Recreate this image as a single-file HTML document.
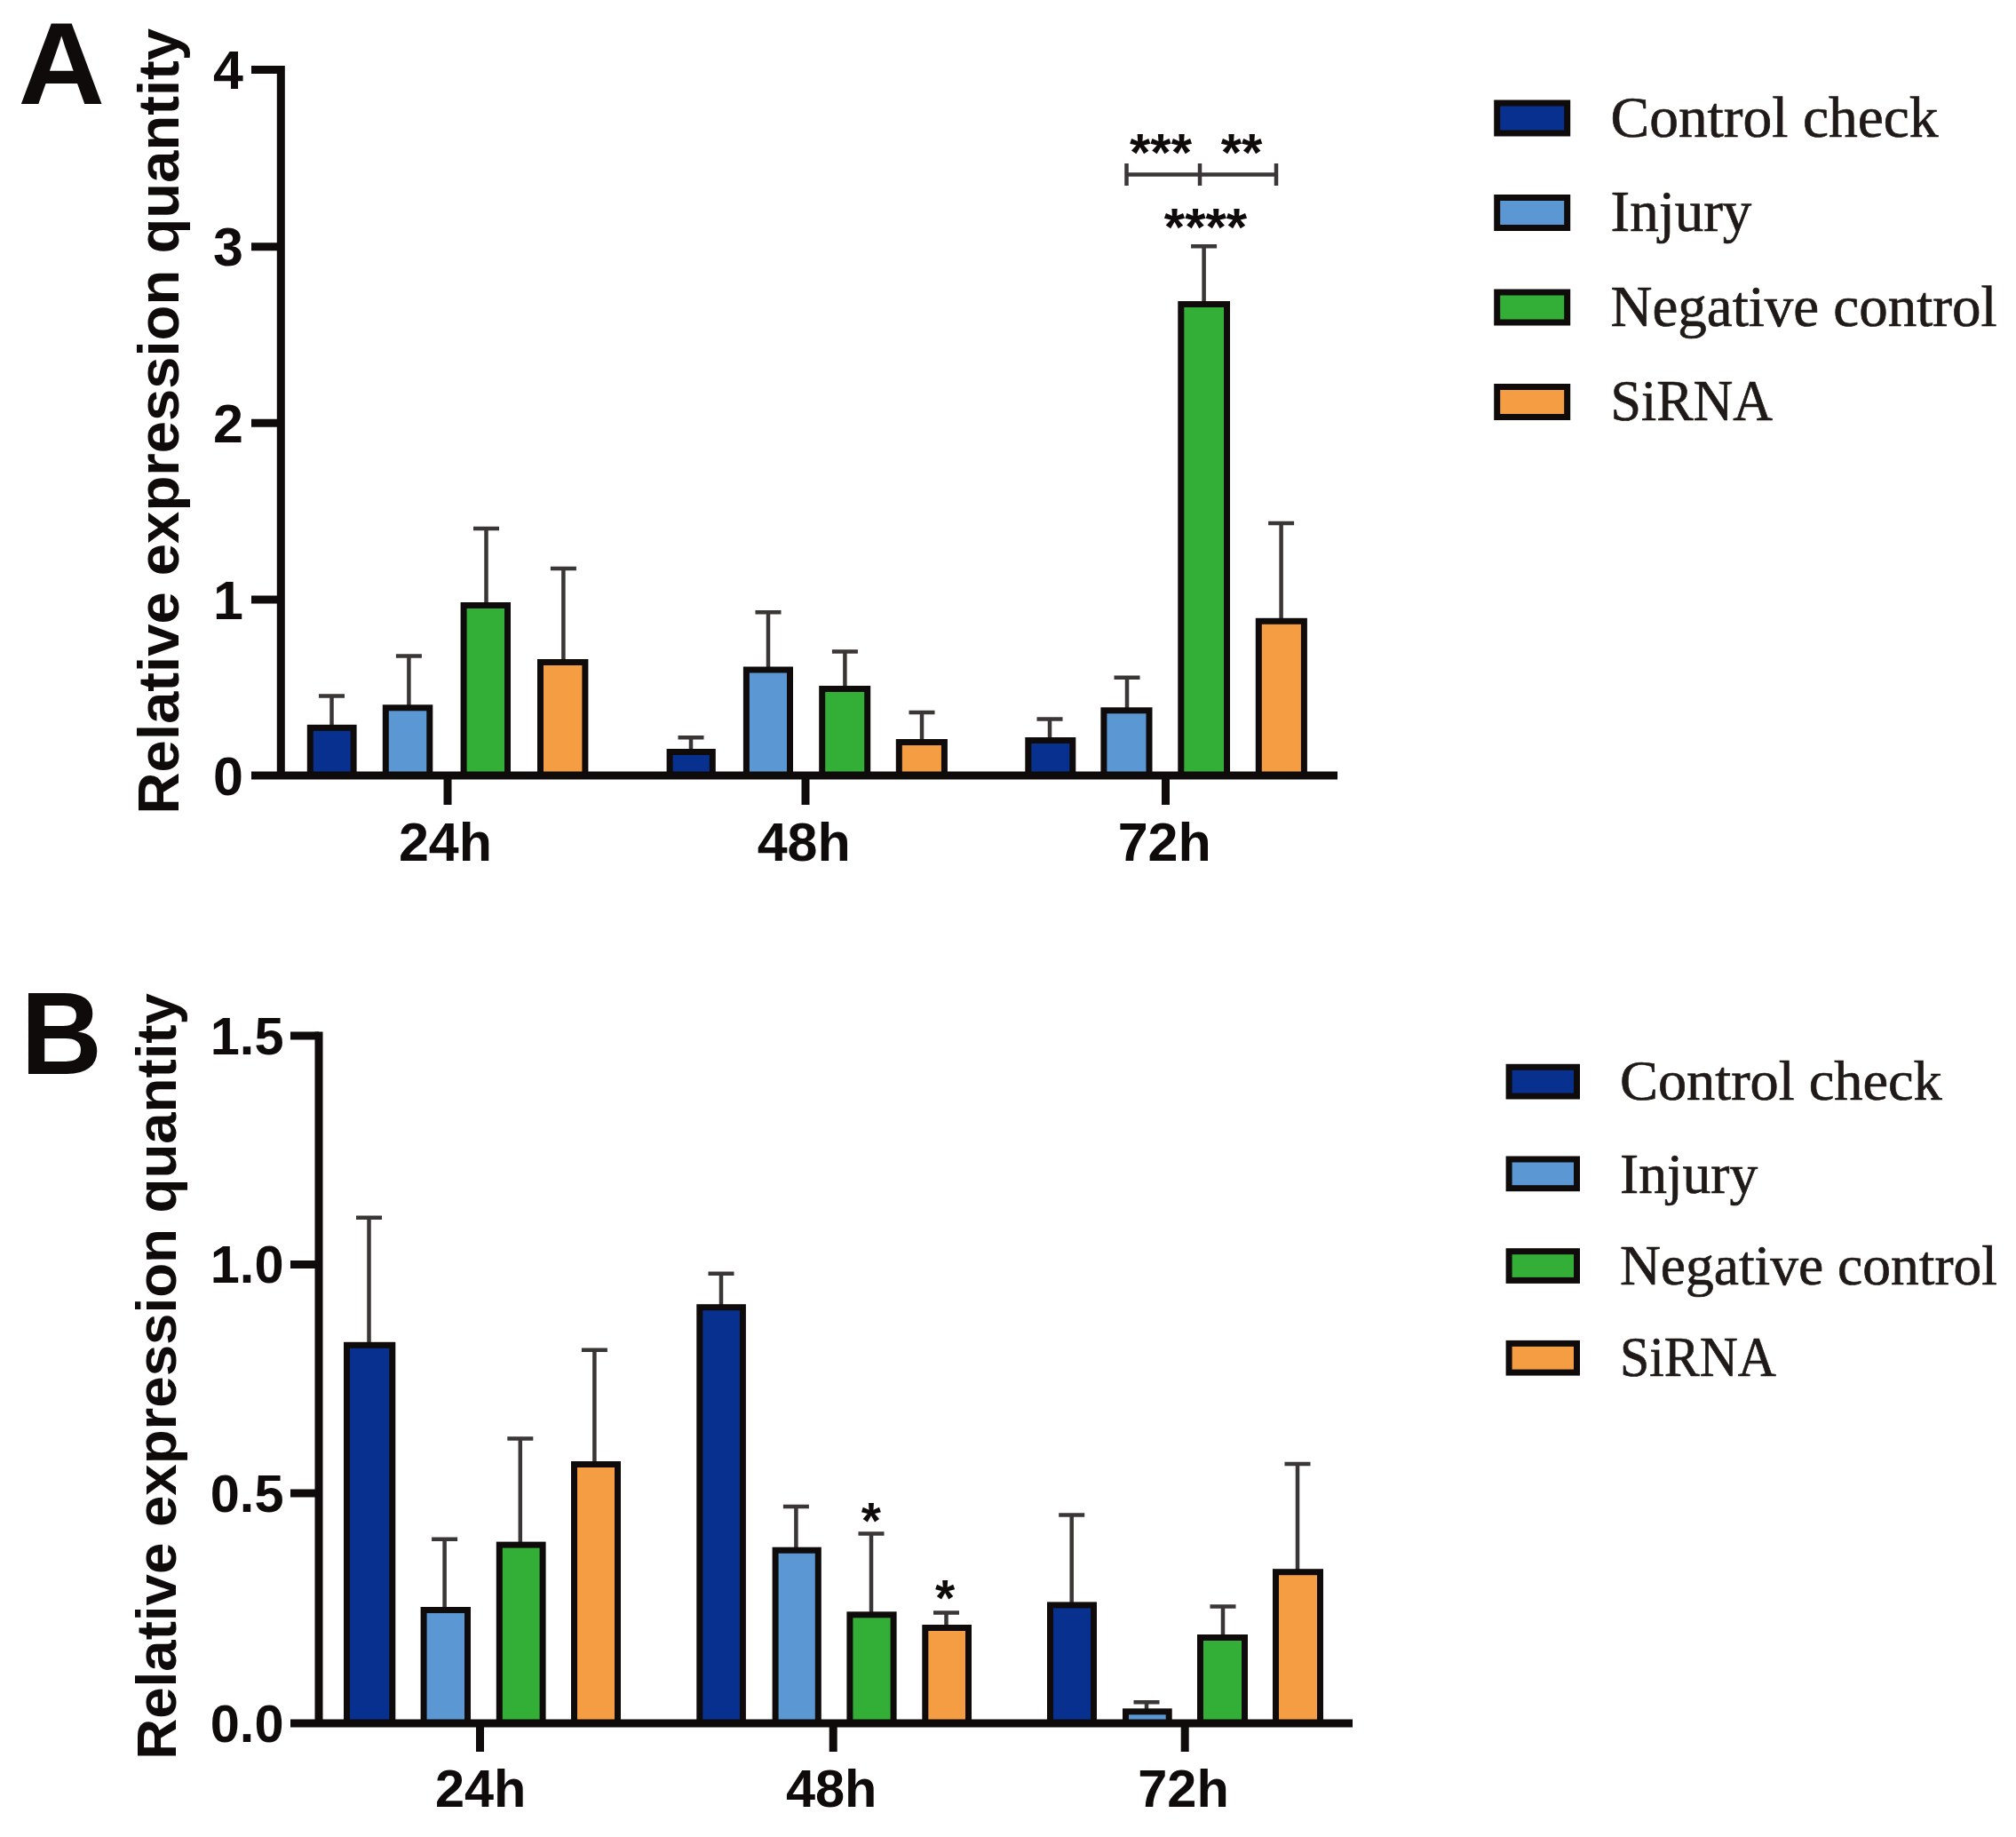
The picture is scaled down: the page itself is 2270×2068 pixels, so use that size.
<!DOCTYPE html>
<html lang="en"><head><meta charset="utf-8"><title>Relative expression quantity</title>
<style>
html,body{margin:0;padding:0;background:#fff}
body{width:2270px;height:2068px;overflow:hidden}
svg{display:block}
.ab{font-family:"Liberation Sans",Arial,sans-serif;font-weight:bold;fill:#0f0b0a}
.tr{font-family:"Liberation Serif","Times New Roman",serif;fill:#1f1a17;stroke:#1f1a17;stroke-width:0.7}
</style></head><body>
<svg width="2270" height="2068" viewBox="0 0 2270 2068">
<rect width="2270" height="2068" fill="#fff"/>

<g id="chartA">
<text class="ab" x="20.5" y="117" font-size="132" textLength="97.6" lengthAdjust="spacingAndGlyphs">A</text>
<text class="ab" font-size="65" transform="translate(200.5 916.5) rotate(-90)" textLength="884.6" lengthAdjust="spacingAndGlyphs">Relative expression quantity</text>
<path d="M359.0 783.4H388.0M373.5 783.4V817.8" stroke="#3a3635" stroke-width="4.5" fill="none"/>
<rect x="349.3" y="819.3" width="48.8" height="53.7" fill="#08318f" stroke="#0f0b0a" stroke-width="7"/>
<path d="M445.9 738.4H474.9M460.4 738.4V795.3" stroke="#3a3635" stroke-width="4.5" fill="none"/>
<rect x="434.3" y="796.8" width="49.5" height="76.2" fill="#5b98d3" stroke="#0f0b0a" stroke-width="7"/>
<path d="M533.0 594.9H562.0M547.5 594.9V680.0" stroke="#3a3635" stroke-width="4.5" fill="none"/>
<rect x="522.1" y="681.5" width="49.4" height="191.5" fill="#33ae37" stroke="#0f0b0a" stroke-width="7"/>
<path d="M619.9 639.9H648.9M634.4 639.9V744.0" stroke="#3a3635" stroke-width="4.5" fill="none"/>
<rect x="608.5" y="745.5" width="50.4" height="127.5" fill="#f49d43" stroke="#0f0b0a" stroke-width="7"/>
<path d="M763.5 830.2H792.5M778.0 830.2V845.0" stroke="#3a3635" stroke-width="4.5" fill="none"/>
<rect x="754.1" y="846.5" width="48.2" height="26.5" fill="#08318f" stroke="#0f0b0a" stroke-width="7"/>
<path d="M850.5 689.2H879.5M865.0 689.2V752.5" stroke="#3a3635" stroke-width="4.5" fill="none"/>
<rect x="840.4" y="754.0" width="49.1" height="119.0" fill="#5b98d3" stroke="#0f0b0a" stroke-width="7"/>
<path d="M936.9 733.5H965.9M951.4 733.5V774.0" stroke="#3a3635" stroke-width="4.5" fill="none"/>
<rect x="925.7" y="775.5" width="51.0" height="97.5" fill="#33ae37" stroke="#0f0b0a" stroke-width="7"/>
<path d="M1023.5 802.1H1052.5M1038.0 802.1V834.0" stroke="#3a3635" stroke-width="4.5" fill="none"/>
<rect x="1012.3" y="835.5" width="51.1" height="37.5" fill="#f49d43" stroke="#0f0b0a" stroke-width="7"/>
<path d="M1167.5 809.6H1196.5M1182.0 809.6V832.0" stroke="#3a3635" stroke-width="4.5" fill="none"/>
<rect x="1157.8" y="833.5" width="50.0" height="39.5" fill="#08318f" stroke="#0f0b0a" stroke-width="7"/>
<path d="M1254.5 762.8H1283.5M1269.0 762.8V798.3" stroke="#3a3635" stroke-width="4.5" fill="none"/>
<rect x="1242.9" y="799.8" width="51.1" height="73.2" fill="#5b98d3" stroke="#0f0b0a" stroke-width="7"/>
<path d="M1341.1 277.2H1370.1M1355.6 277.2V341.0" stroke="#3a3635" stroke-width="4.5" fill="none"/>
<rect x="1329.8" y="342.5" width="51.7" height="530.5" fill="#33ae37" stroke="#0f0b0a" stroke-width="7"/>
<path d="M1428.1 589.1H1457.1M1442.6 589.1V697.8" stroke="#3a3635" stroke-width="4.5" fill="none"/>
<rect x="1417.3" y="699.3" width="51.1" height="173.7" fill="#f49d43" stroke="#0f0b0a" stroke-width="7"/>
<path d="M316.3 74V873M283 873H1506" stroke="#0f0b0a" stroke-width="9" fill="none"/>
<path d="M283 78.6H316.3" stroke="#0f0b0a" stroke-width="9"/>
<path d="M283 277.8H316.3" stroke="#0f0b0a" stroke-width="9"/>
<path d="M283 476.2H316.3" stroke="#0f0b0a" stroke-width="9"/>
<path d="M283 675H316.3" stroke="#0f0b0a" stroke-width="9"/>
<text class="ab" font-size="61" x="274" y="100.1" text-anchor="end">4</text>
<text class="ab" font-size="61" x="274" y="299.3" text-anchor="end">3</text>
<text class="ab" font-size="61" x="274" y="497.7" text-anchor="end">2</text>
<text class="ab" font-size="61" x="274" y="696.5" text-anchor="end">1</text>
<text class="ab" font-size="61" x="274" y="894.5" text-anchor="end">0</text>
<path d="M504 873V906" stroke="#0f0b0a" stroke-width="9"/>
<text class="ab" font-size="61" x="501.5" y="969" text-anchor="middle">24h</text>
<path d="M907 873V906" stroke="#0f0b0a" stroke-width="9"/>
<text class="ab" font-size="61" x="905.2" y="969" text-anchor="middle">48h</text>
<path d="M1312.5 873V906" stroke="#0f0b0a" stroke-width="9"/>
<text class="ab" font-size="61" x="1311.2" y="969" text-anchor="middle">72h</text>
<path d="M1267 196.5H1439M1268.5 184V209M1351 184V209M1437 184V209" stroke="#3a3635" stroke-width="4.5" fill="none"/>
<text class="ab" font-size="60" x="1307" y="192" text-anchor="middle">***</text>
<text class="ab" font-size="60" x="1398" y="192" text-anchor="middle">**</text>
<text class="ab" font-size="60" x="1357.5" y="276" text-anchor="middle">****</text>
<rect x="1685.7" y="116.0" width="79" height="34" fill="#08318f" stroke="#0f0b0a" stroke-width="7"/>
<text class="tr" font-size="65" x="1813.5" y="153.8" textLength="369" lengthAdjust="spacingAndGlyphs">Control check</text>
<rect x="1685.7" y="222.5" width="79" height="34" fill="#5b98d3" stroke="#0f0b0a" stroke-width="7"/>
<text class="tr" font-size="65" x="1813.5" y="260">Injury</text>
<rect x="1685.7" y="329.0" width="79" height="34" fill="#33ae37" stroke="#0f0b0a" stroke-width="7"/>
<text class="tr" font-size="65" x="1813.5" y="367">Negative control</text>
<rect x="1685.7" y="435.5" width="79" height="34" fill="#f49d43" stroke="#0f0b0a" stroke-width="7"/>
<text class="tr" font-size="65" x="1813.5" y="473" textLength="182.4" lengthAdjust="spacingAndGlyphs">SiRNA</text>
</g>
<g id="chartB">
<text class="ab" x="23.5" y="1208.8" font-size="132" textLength="91.5" lengthAdjust="spacingAndGlyphs">B</text>
<text class="ab" font-size="63.5" transform="translate(197.6 1980.7) rotate(-90)" textLength="862.6" lengthAdjust="spacingAndGlyphs">Relative expression quantity</text>
<path d="M401.0 1370.8H430.0M415.5 1370.8V1512.8" stroke="#3a3635" stroke-width="4.5" fill="none"/>
<rect x="390.5" y="1514.3" width="51.3" height="425.7" fill="#08318f" stroke="#0f0b0a" stroke-width="7"/>
<path d="M486.1 1732.8H515.1M500.6 1732.8V1811.0" stroke="#3a3635" stroke-width="4.5" fill="none"/>
<rect x="477.1" y="1812.5" width="49.4" height="127.5" fill="#5b98d3" stroke="#0f0b0a" stroke-width="7"/>
<path d="M571.3 1619.6H600.3M585.8 1619.6V1737.6" stroke="#3a3635" stroke-width="4.5" fill="none"/>
<rect x="562.3" y="1739.1" width="48.8" height="200.9" fill="#33ae37" stroke="#0f0b0a" stroke-width="7"/>
<path d="M654.9 1519.8H683.9M669.4 1519.8V1647.0" stroke="#3a3635" stroke-width="4.5" fill="none"/>
<rect x="646.5" y="1648.5" width="49.0" height="291.5" fill="#f49d43" stroke="#0f0b0a" stroke-width="7"/>
<path d="M797.5 1433.8H826.5M812.0 1433.8V1470.2" stroke="#3a3635" stroke-width="4.5" fill="none"/>
<rect x="787.8" y="1471.7" width="48.6" height="468.3" fill="#08318f" stroke="#0f0b0a" stroke-width="7"/>
<path d="M881.9 1696.1H910.9M896.4 1696.1V1743.7" stroke="#3a3635" stroke-width="4.5" fill="none"/>
<rect x="873.1" y="1745.2" width="48.2" height="194.8" fill="#5b98d3" stroke="#0f0b0a" stroke-width="7"/>
<path d="M966.5 1726.6H995.5M981.0 1726.6V1816.3" stroke="#3a3635" stroke-width="4.5" fill="none"/>
<rect x="956.9" y="1817.8" width="49.2" height="122.2" fill="#33ae37" stroke="#0f0b0a" stroke-width="7"/>
<path d="M1051.0 1815.4H1080.0M1065.5 1815.4V1831.0" stroke="#3a3635" stroke-width="4.5" fill="none"/>
<rect x="1041.8" y="1832.5" width="48.7" height="107.5" fill="#f49d43" stroke="#0f0b0a" stroke-width="7"/>
<path d="M1192.2 1705.5H1221.2M1206.7 1705.5V1805.4" stroke="#3a3635" stroke-width="4.5" fill="none"/>
<rect x="1182.5" y="1806.9" width="49.0" height="133.1" fill="#08318f" stroke="#0f0b0a" stroke-width="7"/>
<path d="M1276.5 1916.3H1305.5M1291.0 1916.3V1925.3" stroke="#3a3635" stroke-width="4.5" fill="none"/>
<rect x="1267.5" y="1926.8" width="48.7" height="13.2" fill="#5b98d3" stroke="#0f0b0a" stroke-width="7"/>
<path d="M1362.5 1808.6H1391.5M1377.0 1808.6V1842.0" stroke="#3a3635" stroke-width="4.5" fill="none"/>
<rect x="1351.5" y="1843.5" width="50.0" height="96.5" fill="#33ae37" stroke="#0f0b0a" stroke-width="7"/>
<path d="M1446.5 1648.1H1475.5M1461.0 1648.1V1768.2" stroke="#3a3635" stroke-width="4.5" fill="none"/>
<rect x="1436.5" y="1769.7" width="50.0" height="170.3" fill="#f49d43" stroke="#0f0b0a" stroke-width="7"/>
<path d="M359 1161.5V1940M327 1940H1523" stroke="#0f0b0a" stroke-width="9" fill="none"/>
<path d="M327 1166H359" stroke="#0f0b0a" stroke-width="9"/>
<path d="M327 1423.5H359" stroke="#0f0b0a" stroke-width="9"/>
<path d="M327 1681H359" stroke="#0f0b0a" stroke-width="9"/>
<text class="ab" font-size="59.5" x="319.5" y="1186.7" text-anchor="end">1.5</text>
<text class="ab" font-size="59.5" x="319.5" y="1444.2" text-anchor="end">1.0</text>
<text class="ab" font-size="59.5" x="319.5" y="1701.7" text-anchor="end">0.5</text>
<text class="ab" font-size="59.5" x="319.5" y="1960.7" text-anchor="end">0.0</text>
<path d="M540.5 1940V1972" stroke="#0f0b0a" stroke-width="9"/>
<text class="ab" font-size="59.5" x="541.2" y="2033.5" text-anchor="middle">24h</text>
<path d="M938.2 1940V1972" stroke="#0f0b0a" stroke-width="9"/>
<text class="ab" font-size="59.5" x="936.2" y="2033.5" text-anchor="middle">48h</text>
<path d="M1334.2 1940V1972" stroke="#0f0b0a" stroke-width="9"/>
<text class="ab" font-size="59.5" x="1332.5" y="2033.5" text-anchor="middle">72h</text>
<text class="ab" font-size="57" x="980.8" y="1732.3" text-anchor="middle">*</text>
<text class="ab" font-size="57" x="1064" y="1819.3" text-anchor="middle">*</text>
<rect x="1699.1" y="1201.3" width="76.4" height="32.7" fill="#08318f" stroke="#0f0b0a" stroke-width="7"/>
<text class="tr" font-size="63.5" x="1824" y="1237.8" textLength="362.7" lengthAdjust="spacingAndGlyphs">Control check</text>
<rect x="1699.1" y="1305.0" width="76.4" height="32.7" fill="#5b98d3" stroke="#0f0b0a" stroke-width="7"/>
<text class="tr" font-size="63.5" x="1824" y="1342.5">Injury</text>
<rect x="1699.1" y="1408.7" width="76.4" height="32.7" fill="#33ae37" stroke="#0f0b0a" stroke-width="7"/>
<text class="tr" font-size="63.5" x="1824" y="1446.3">Negative control</text>
<rect x="1699.1" y="1512.4" width="76.4" height="32.7" fill="#f49d43" stroke="#0f0b0a" stroke-width="7"/>
<text class="tr" font-size="63.5" x="1824" y="1548.8" textLength="175.9" lengthAdjust="spacingAndGlyphs">SiRNA</text>
</g>
</svg></body></html>
